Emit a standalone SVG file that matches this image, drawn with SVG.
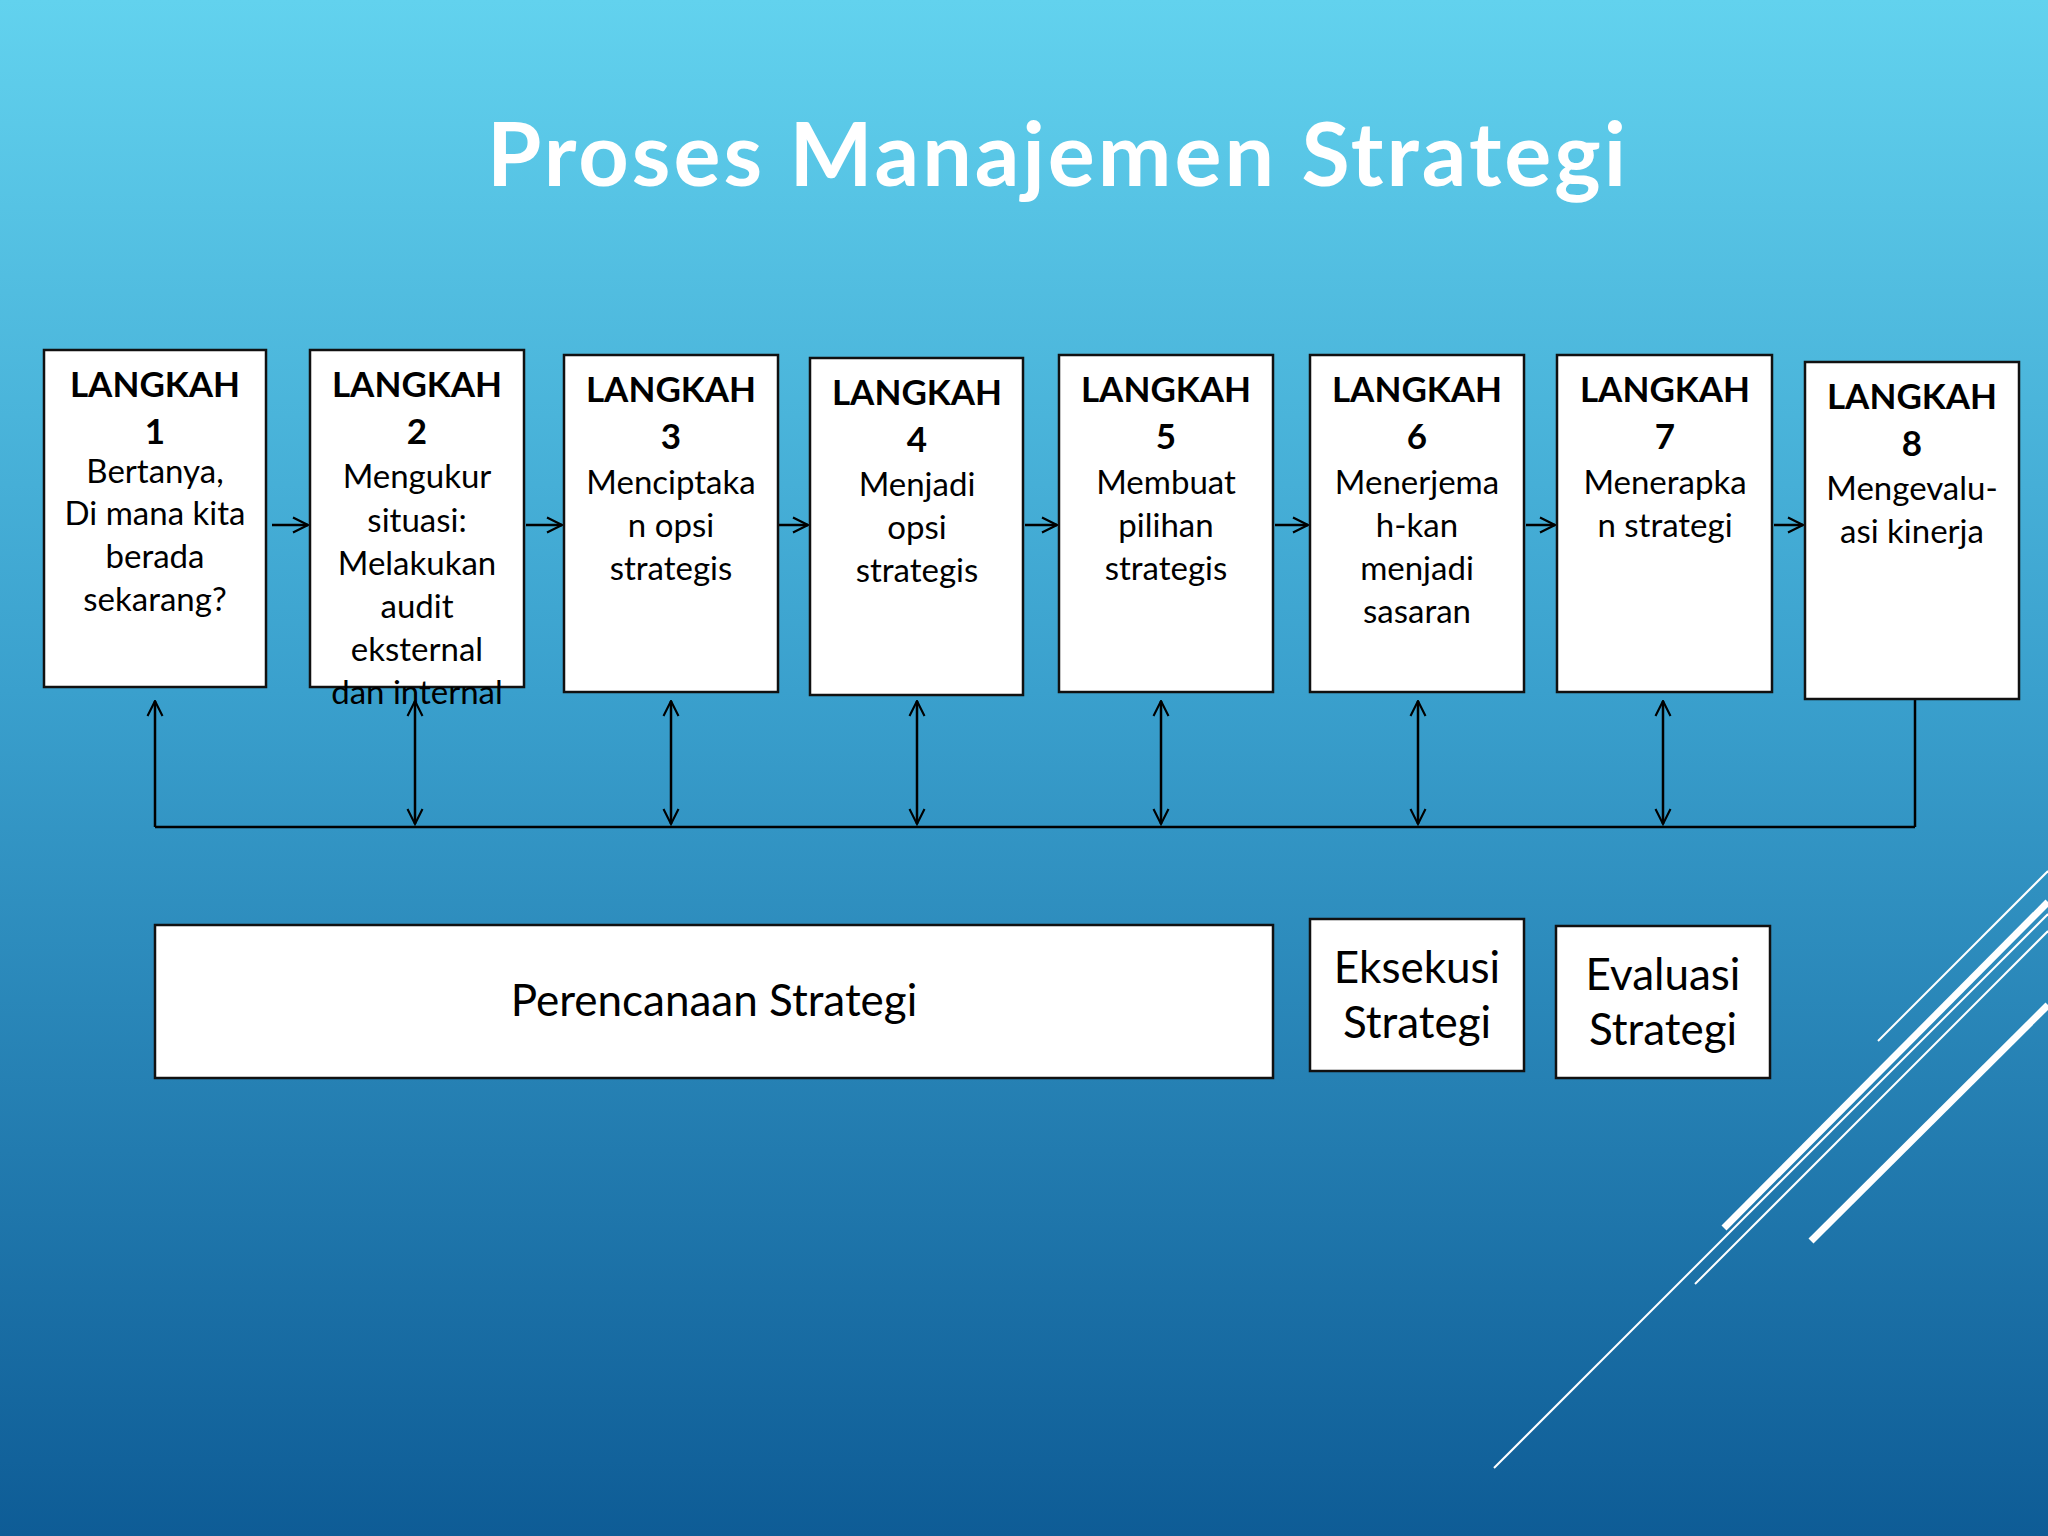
<svg xmlns="http://www.w3.org/2000/svg" width="2048" height="1536" viewBox="0 0 2048 1536">
<defs>
<linearGradient id="bg" x1="0" y1="0" x2="0" y2="1">
<stop offset="0" stop-color="#62d2ee"/><stop offset="0.45" stop-color="#3aa0cd"/><stop offset="1" stop-color="#0e5c96"/>
</linearGradient>
<marker id="ah" viewBox="0 0 12 12" refX="11" refY="6" markerWidth="18" markerHeight="18" markerUnits="userSpaceOnUse" orient="auto-start-reverse">
<path d="M1,1 L11,6 L1,11" fill="none" stroke="#000" stroke-width="1.4"/>
</marker>
<style>
.box{fill:#fff;stroke:#111;stroke-width:2.5}
.t{font-family:Lato,"Open Sans",sans-serif;font-size:33px;fill:#000;text-anchor:middle}
.h{font-weight:bold;font-size:35px}
.b{font-size:44px}
.c{stroke:#000;stroke-width:2.5;fill:none}
.d{stroke:#fff;fill:none}
</style>
</defs>
<rect width="2048" height="1536" fill="url(#bg)"/>
<g>
<line class="d" x1="1878" y1="1041" x2="2048" y2="871" stroke-width="2"/>
<line class="d" x1="1724" y1="1228" x2="2048" y2="902" stroke-width="7"/>
<line class="d" x1="1695" y1="1284" x2="2048" y2="931" stroke-width="2"/>
<line class="d" x1="1811" y1="1241" x2="2048" y2="1005" stroke-width="7"/>
<line class="d" x1="1494" y1="1468" x2="2048" y2="914" stroke-width="2"/>
</g>
<text x="1058" y="186" font-family="Lato,'Open Sans',sans-serif" font-weight="bold" font-size="88" letter-spacing="3" fill="#fff" text-anchor="middle">Proses Manajemen Strategi</text>
<g id="connectors">
<line class="c" x1="155" y1="827" x2="1915" y2="827"/>
<line class="c" x1="155" y1="827" x2="155" y2="701" marker-end="url(#ah)"/>
<line class="c" x1="1915" y1="699" x2="1915" y2="827"/>
<line class="c" x1="415" y1="701" x2="415" y2="824" marker-start="url(#ah)" marker-end="url(#ah)"/>
<line class="c" x1="671" y1="701" x2="671" y2="824" marker-start="url(#ah)" marker-end="url(#ah)"/>
<line class="c" x1="917" y1="701" x2="917" y2="824" marker-start="url(#ah)" marker-end="url(#ah)"/>
<line class="c" x1="1161" y1="701" x2="1161" y2="824" marker-start="url(#ah)" marker-end="url(#ah)"/>
<line class="c" x1="1418" y1="701" x2="1418" y2="824" marker-start="url(#ah)" marker-end="url(#ah)"/>
<line class="c" x1="1663" y1="701" x2="1663" y2="824" marker-start="url(#ah)" marker-end="url(#ah)"/>
<line class="c" x1="272" y1="525" x2="308" y2="525" marker-end="url(#ah)"/>
<line class="c" x1="526" y1="525" x2="562" y2="525" marker-end="url(#ah)"/>
<line class="c" x1="776" y1="525" x2="808" y2="525" marker-end="url(#ah)"/>
<line class="c" x1="1025" y1="525" x2="1057" y2="525" marker-end="url(#ah)"/>
<line class="c" x1="1275" y1="525" x2="1308" y2="525" marker-end="url(#ah)"/>
<line class="c" x1="1526" y1="525" x2="1555" y2="525" marker-end="url(#ah)"/>
<line class="c" x1="1774" y1="525" x2="1803" y2="525" marker-end="url(#ah)"/>
</g>
<g id="n1"><rect class="box" x="44" y="350" width="222" height="337"/>
<text class="t"><tspan class="h" x="155" y="397">LANGKAH</tspan><tspan class="h" x="155" y="444">1</tspan><tspan x="155" y="483">Bertanya,</tspan><tspan x="155" y="525">Di mana kita</tspan><tspan x="155" y="568">berada</tspan><tspan x="155" y="611">sekarang?</tspan></text></g>
<g id="n2"><rect class="box" x="310" y="350" width="214" height="337"/>
<text class="t"><tspan class="h" x="417" y="397">LANGKAH</tspan><tspan class="h" x="417" y="444">2</tspan><tspan x="417" y="488">Mengukur</tspan><tspan x="417" y="532">situasi:</tspan><tspan x="417" y="575">Melakukan</tspan><tspan x="417" y="618">audit</tspan><tspan x="417" y="661">eksternal</tspan><tspan x="417" y="704">dan internal</tspan></text></g>
<g id="n3"><rect class="box" x="564" y="355" width="214" height="337"/>
<text class="t"><tspan class="h" x="671" y="402">LANGKAH</tspan><tspan class="h" x="671" y="449">3</tspan><tspan x="671" y="494">Menciptaka</tspan><tspan x="671" y="537">n opsi</tspan><tspan x="671" y="580">strategis</tspan></text></g>
<g id="n4"><rect class="box" x="810" y="358" width="213" height="337"/>
<text class="t"><tspan class="h" x="917" y="405">LANGKAH</tspan><tspan class="h" x="917" y="452">4</tspan><tspan x="917" y="496">Menjadi</tspan><tspan x="917" y="539">opsi</tspan><tspan x="917" y="582">strategis</tspan></text></g>
<g id="n5"><rect class="box" x="1059" y="355" width="214" height="337"/>
<text class="t"><tspan class="h" x="1166" y="402">LANGKAH</tspan><tspan class="h" x="1166" y="449">5</tspan><tspan x="1166" y="494">Membuat</tspan><tspan x="1166" y="537">pilihan</tspan><tspan x="1166" y="580">strategis</tspan></text></g>
<g id="n6"><rect class="box" x="1310" y="355" width="214" height="337"/>
<text class="t"><tspan class="h" x="1417" y="402">LANGKAH</tspan><tspan class="h" x="1417" y="449">6</tspan><tspan x="1417" y="494">Menerjema</tspan><tspan x="1417" y="537">h-kan</tspan><tspan x="1417" y="580">menjadi</tspan><tspan x="1417" y="623">sasaran</tspan></text></g>
<g id="n7"><rect class="box" x="1557" y="355" width="215" height="337"/>
<text class="t"><tspan class="h" x="1665" y="402">LANGKAH</tspan><tspan class="h" x="1665" y="449">7</tspan><tspan x="1665" y="494">Menerapka</tspan><tspan x="1665" y="537">n strategi</tspan></text></g>
<g id="n8"><rect class="box" x="1805" y="362" width="214" height="337"/>
<text class="t"><tspan class="h" x="1912" y="409">LANGKAH</tspan><tspan class="h" x="1912" y="456">8</tspan><tspan x="1912" y="500">Mengevalu-</tspan><tspan x="1912" y="543">asi kinerja</tspan></text></g>
<g id="p1"><rect class="box" x="155" y="925" width="1118" height="153"/>
<text class="t b" x="714" y="1016">Perencanaan Strategi</text></g>
<g id="p2"><rect class="box" x="1310" y="919" width="214" height="152"/>
<text class="t b"><tspan x="1417" y="983">Eksekusi</tspan><tspan x="1417" y="1038">Strategi</tspan></text></g>
<g id="p3"><rect class="box" x="1556" y="926" width="214" height="152"/>
<text class="t b"><tspan x="1663" y="990">Evaluasi</tspan><tspan x="1663" y="1045">Strategi</tspan></text></g>
</svg>
